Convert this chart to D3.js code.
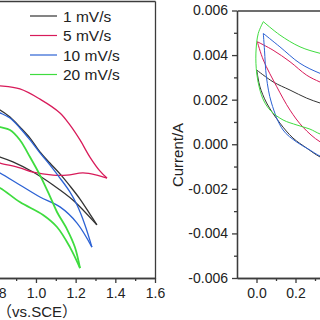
<!DOCTYPE html>
<html>
<head>
<meta charset="utf-8">
<script src="https://cdn.jsdelivr.net/npm/d3@7"></script>
<style>
  body { margin: 0; background: #fff; }
  svg { display: block; font-family: "Liberation Sans", Arial, "Noto Sans CJK SC", sans-serif; }
  .axis path, .axis line { stroke: #3c3c3c; stroke-width: 1.3; }
  .axis text { fill: #222; font-size: 14px; }
</style>
</head>
<body>
<svg width="320" height="320"></svg>
<script>
var series = ["1 mV/s", "5 mV/s", "10 mV/s", "20 mV/s"];
var colors = ["#333333", "#d81b5a", "#2c62d4", "#3fdc3f"];

// left panel: potential (V) vs current (A), upper and lower branch of each loop
var left1Up = [[0.768, 0.00145], [0.819, 0.00128], [0.869, 0.00097], [0.919, 0.00054], [0.970, 0.00006], [1.020, -0.00054], [1.070, -0.00102], [1.121, -0.00149], [1.171, -0.00201], [1.222, -0.00258], [1.272, -0.00323], [1.307, -0.00370]];
var left1Down = [[1.307, -0.00370], [1.186, -0.00262], [1.086, -0.00197], [0.985, -0.00141], [0.884, -0.00097], [0.819, -0.00076], [0.768, -0.00063]];
var left5Up = [[0.768, 0.00234], [0.819, 0.00232], [0.919, 0.00219], [1.020, 0.00175], [1.121, 0.00115], [1.171, 0.00063], [1.222, -0.00002], [1.272, -0.00076], [1.322, -0.00136], [1.358, -0.00167]];
var left5Down = [[1.358, -0.00167], [1.307, -0.00154], [1.237, -0.00145], [1.156, -0.00154], [1.086, -0.00154], [0.985, -0.00141], [0.919, -0.00123], [0.819, -0.00102], [0.768, -0.00089]];
var left10Up = [[0.768, 0.00132], [0.819, 0.00115], [0.869, 0.00093], [0.919, 0.00050], [0.970, -0.00002], [1.020, -0.00058], [1.070, -0.00110], [1.121, -0.00167], [1.171, -0.00227], [1.207, -0.00284], [1.247, -0.00370], [1.282, -0.00466]];
var left10Down = [[1.282, -0.00466], [1.207, -0.00362], [1.121, -0.00292], [1.020, -0.00249], [0.919, -0.00197], [0.819, -0.00145], [0.768, -0.00123]];
var left20Up = [[0.768, 0.00067], [0.819, 0.00054], [0.869, 0.00041], [0.919, -0.00002], [0.970, -0.00076], [1.020, -0.00154], [1.070, -0.00245], [1.106, -0.00314], [1.156, -0.00388], [1.196, -0.00466], [1.222, -0.00557]];
var left20Down = [[1.222, -0.00557], [1.171, -0.00466], [1.106, -0.00379], [1.036, -0.00327], [0.919, -0.00271], [0.819, -0.00210], [0.768, -0.00193]];

// right panel
var right1Up = [[0.001, 0.00333], [0.085, 0.00280], [0.172, 0.00243], [0.257, 0.00207], [0.326, 0.00185], [0.428, 0.00158]];
var right1Down = [[0.001, 0.00333], [0.008, 0.00297], [0.018, 0.00257], [0.052, 0.00185], [0.120, 0.00095], [0.187, 0.00028], [0.257, -0.00017], [0.326, -0.00057], [0.428, -0.00093]];
var right5Up = [[0.004, 0.00460], [0.085, 0.00422], [0.172, 0.00370], [0.257, 0.00310], [0.326, 0.00279], [0.428, 0.00243]];
var right5Down = [[0.004, 0.00460], [0.035, 0.00378], [0.104, 0.00258], [0.172, 0.00153], [0.238, 0.00077], [0.326, 0.00011], [0.428, -0.00026]];
var right10Up = [[0.035, 0.00497], [0.120, 0.00437], [0.223, 0.00363], [0.326, 0.00318], [0.428, 0.00288]];
var right10Down = [[0.035, 0.00497], [0.041, 0.00422], [0.051, 0.00301], [0.077, 0.00185], [0.136, 0.00064], [0.206, 0.00010], [0.274, -0.00026], [0.326, -0.00053], [0.428, -0.00084]];
var right20Up = [[0.035, 0.00550], [0.120, 0.00490], [0.223, 0.00437], [0.326, 0.00408], [0.428, 0.00390]];
var right20Down = [[0.035, 0.00550], [0.009, 0.00497], [-0.003, 0.00409], [0.001, 0.00319], [0.015, 0.00252], [0.038, 0.00194], [0.074, 0.00149], [0.136, 0.00109], [0.208, 0.00086], [0.274, 0.00068], [0.326, 0.00046], [0.428, 0.00019]];

var leftXTicks = [0.8, 1.0, 1.2, 1.4, 1.6];
var leftXMinor = [0.7, 0.9, 1.1, 1.3, 1.5];
var rightXTicks = [0.0, 0.2];
var rightXMinor = [0.1, 0.3];
var rightYTicks = [-0.006, -0.004, -0.002, 0, 0.002, 0.004, 0.006];
var rightYMinor = [-0.005, -0.003, -0.001, 0.001, 0.003, 0.005];

var svg = d3.select("svg");

var xL = d3.scaleLinear().domain([0.6, 1.6]).range([-43.4, 155]);
var yL = d3.scaleLinear().domain([-0.006, 0.006]).range([278, 1]);
var xR = d3.scaleLinear().domain([-0.1, 0.6]).range([237, 373.5]);
var yR = d3.scaleLinear().domain([-0.006, 0.006]).range([278, 10.5]);

// left frame
svg.append("g").attr("class", "axis")
  .attr("transform", "translate(0,278)")
  .call(d3.axisBottom(xL).tickValues(leftXTicks).tickSize(5).tickSizeOuter(0).tickPadding(5)
    .tickFormat(d3.format(".1f")));
svg.append("g").attr("class", "axis")
  .attr("transform", "translate(0,278)")
  .call(d3.axisBottom(xL).tickValues(leftXMinor).tickSize(3).tickSizeOuter(0).tickFormat(""));
svg.append("g").attr("class", "axis")
  .attr("transform", "translate(0,1)")
  .call(d3.axisTop(xL).tickValues([]).tickSizeOuter(0));
svg.append("g").attr("class", "axis")
  .attr("transform", "translate(155,0)")
  .call(d3.axisRight(yL).tickValues([]).tickSizeOuter(0));

var xTitle = svg.append("text")
  .attr("x", 77).attr("y", 317)
  .attr("text-anchor", "end")
  .attr("font-size", 15).attr("fill", "#222");
xTitle.append("tspan").text("Potential/V");
xTitle.append("tspan").attr("font-family", "Noto Sans CJK SC").text("（");
xTitle.append("tspan").text("vs.SCE");
xTitle.append("tspan").attr("font-family", "Noto Sans CJK SC").text("）");

var line = function (xs, ys) {
  return d3.line().x(d => xs(d[0])).y(d => ys(d[1])).curve(d3.curveCatmullRom.alpha(0.5));
};

var leftData = [[left1Up, left1Down], [left5Up, left5Down], [left10Up, left10Down], [left20Up, left20Down]];
var rightData = [[right1Up, right1Down], [right5Up, right5Down], [right10Up, right10Down], [right20Up, right20Down]];

leftData.forEach(function (branches, i) {
  branches.forEach(function (b) {
    svg.append("path")
      .attr("d", line(xL, yL)(b))
      .attr("fill", "none")
      .attr("stroke", colors[i])
      .attr("stroke-width", i == 3 ? 1.8 : 1.3);
  });
});

// legend
var legend = svg.append("g");
series.forEach(function (s, i) {
  var y = 16 + i * 19.5;
  legend.append("line")
    .attr("x1", 30).attr("x2", 57).attr("y1", y).attr("y2", y)
    .attr("stroke", colors[i]).attr("stroke-width", 1.2);
  legend.append("text")
    .attr("x", 63).attr("y", y + 5.5)
    .attr("font-size", 15.5).attr("fill", "#222")
    .text(s);
});

// right panel
svg.append("g").attr("class", "axis")
  .attr("transform", "translate(237,0)")
  .call(d3.axisLeft(yR).tickValues(rightYTicks).tickSize(5).tickSizeOuter(0).tickPadding(4)
    .tickFormat(d => d.toFixed(3)));
svg.append("g").attr("class", "axis")
  .attr("transform", "translate(237,0)")
  .call(d3.axisLeft(yR).tickValues(rightYMinor).tickSize(3).tickSizeOuter(0).tickFormat(""));
svg.append("g").attr("class", "axis")
  .attr("transform", "translate(0,278)")
  .call(d3.axisBottom(xR).tickValues(rightXTicks).tickSize(5).tickSizeOuter(0).tickPadding(5)
    .tickFormat(d3.format(".1f")));
svg.append("g").attr("class", "axis")
  .attr("transform", "translate(0,278)")
  .call(d3.axisBottom(xR).tickValues(rightXMinor).tickSize(3).tickSizeOuter(0).tickFormat(""));
svg.append("g").attr("class", "axis")
  .attr("transform", "translate(0,10.5)")
  .call(d3.axisTop(xR).tickValues([]).tickSizeOuter(0));

svg.append("text")
  .attr("transform", "translate(183,155) rotate(-90)")
  .attr("text-anchor", "middle")
  .attr("font-size", 15).attr("fill", "#222")
  .text("Current/A");

rightData.forEach(function (branches, i) {
  branches.forEach(function (b) {
    svg.append("path")
      .attr("d", line(xR, yR)(b))
      .attr("fill", "none")
      .attr("stroke", colors[i])
      .attr("stroke-width", 1);
  });
});
</script>
</body>
</html>
